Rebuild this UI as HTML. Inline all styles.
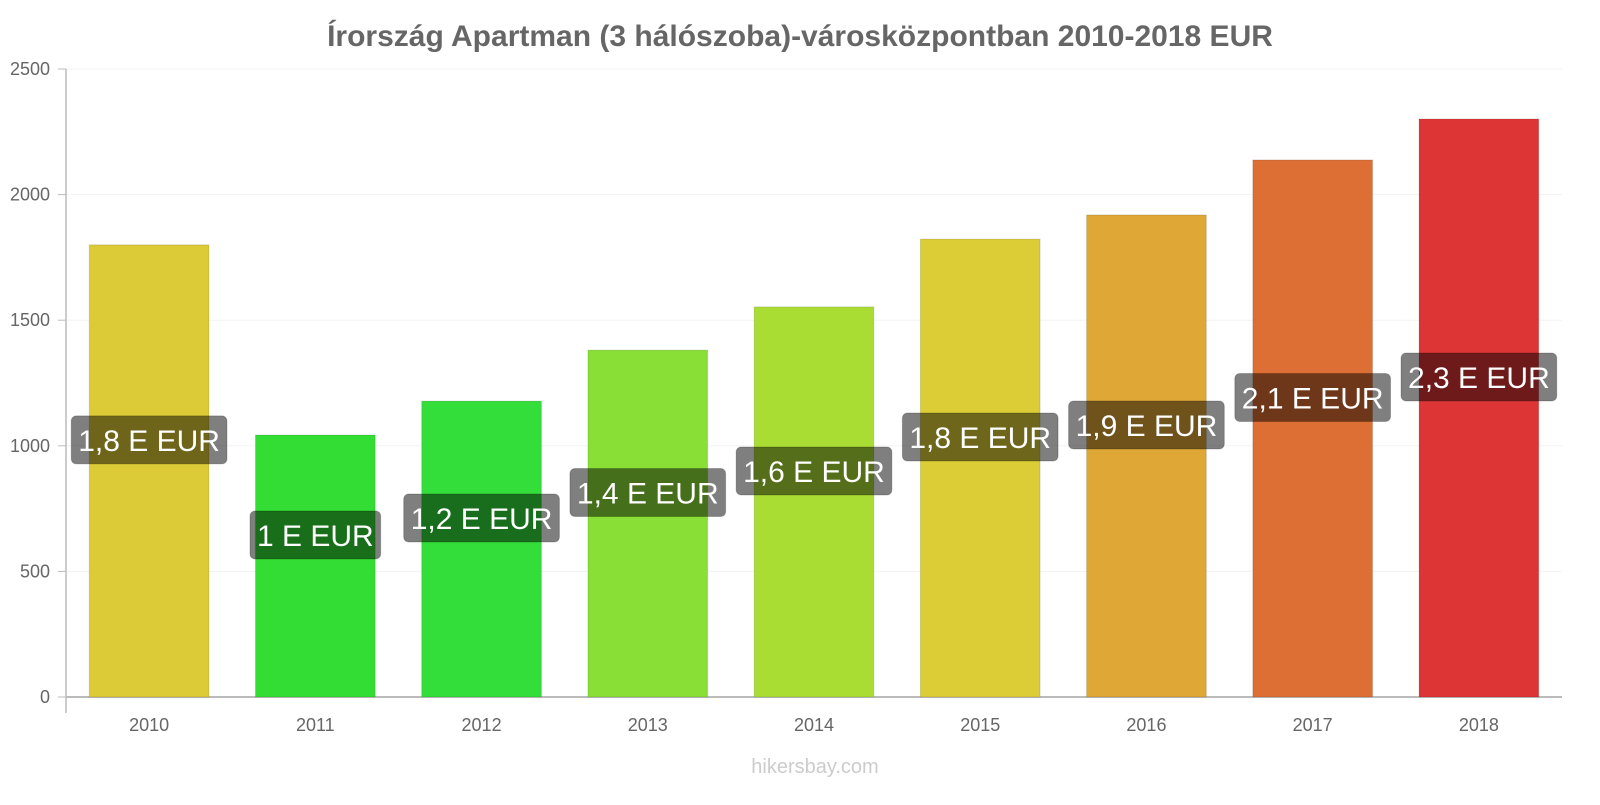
<!DOCTYPE html>
<html><head><meta charset="utf-8"><style>
body{margin:0;background:#fff;width:1600px;height:800px;overflow:hidden;font-family:"Liberation Sans",sans-serif}
</style></head><body>
<svg id="chart" width="1600" height="800" font-family="Liberation Sans, sans-serif">
<text x="800" y="46" text-anchor="middle" font-size="30" font-weight="bold" fill="#666">Írország Apartman (3 hálószoba)-városközpontban 2010-2018 EUR</text>
<g id="grid"></g><g id="bars"></g><g id="labels"></g>
<text x="815" y="773" text-anchor="middle" font-size="20" fill="#ccc">hikersbay.com</text>
</svg>
<script>
const categories=["2010","2011","2012","2013","2014","2015","2016","2017","2018"];
const values=[1800,1043,1178,1381,1553,1823,1919,2138,2301];
const valueLabels=["1,8 E EUR","1 E EUR","1,2 E EUR","1,4 E EUR","1,6 E EUR","1,8 E EUR","1,9 E EUR","2,1 E EUR","2,3 E EUR"];
const colors=["#dccb36","#33dd33","#33dd3a","#8adf37","#aadd33","#dccc35","#dea736","#dd6f35","#dd3535"];
const yTicks=[0,500,1000,1500,2000,2500];
const NS="http://www.w3.org/2000/svg";
const x0=66,x1=1562,yBase=697,yTop=69,yMax=2500;
const y=v=>yBase-(v/yMax)*(yBase-yTop);
const slot=(x1-x0)/categories.length;
const xc=i=>x0+slot*(i+0.5);
function mk(tag,attrs,parent){const e=document.createElementNS(NS,tag);for(const k in attrs)e.setAttribute(k,attrs[k]);parent.appendChild(e);return e;}
const grid=document.getElementById('grid'),bars=document.getElementById('bars'),labels=document.getElementById('labels');
yTicks.forEach(t=>{
  const l=mk('line',{x1:x0,x2:x1,y1:y(t),y2:y(t),stroke:t===0?'#bbb':'#f3f3f3','stroke-width':t===0?2:1},grid);
  
  
  const tk=mk('line',{x1:x0-8,x2:x0,y1:y(t),y2:y(t),stroke:'#bbb'},grid);
  
  
  const tx=mk('text',{x:x0-16,y:y(t)+6,'text-anchor':'end','font-size':18,fill:'#666'},grid);
  tx.textContent=t;
  
  
});
const ax=mk('line',{x1:x0,x2:x0,y1:yTop,y2:yBase+16,stroke:'#bbb','stroke-width':1.5},grid);


const bw=slot*0.72;
categories.forEach((c,i)=>{
  const v=values[i];
  const r=mk('rect',{x:xc(i)-bw/2,y:y(v),width:bw,height:yBase-y(v),fill:colors[i],stroke:'rgba(0,0,0,0.12)'},bars);
  
  
  const xt=mk('text',{x:xc(i),y:731,'text-anchor':'middle','font-size':18,fill:'#666'},grid);
  xt.textContent=c;
  
  
  const cy=y(v/2)-31;
  const g=mk('g',{},labels);
  
  
  const t=mk('text',{x:xc(i),y:cy+11,'text-anchor':'middle','font-size':30,fill:'#fff'},g);
  t.textContent=valueLabels[i];
  const w=t.getComputedTextLength()+14;
  const bg=mk('rect',{x:xc(i)-w/2,y:cy-24,width:w,height:48,rx:5,fill:'rgba(0,0,0,0.5)',stroke:'rgba(0,0,0,0.2)'},g);
  g.insertBefore(bg,t);
});
</script>
</body></html>
